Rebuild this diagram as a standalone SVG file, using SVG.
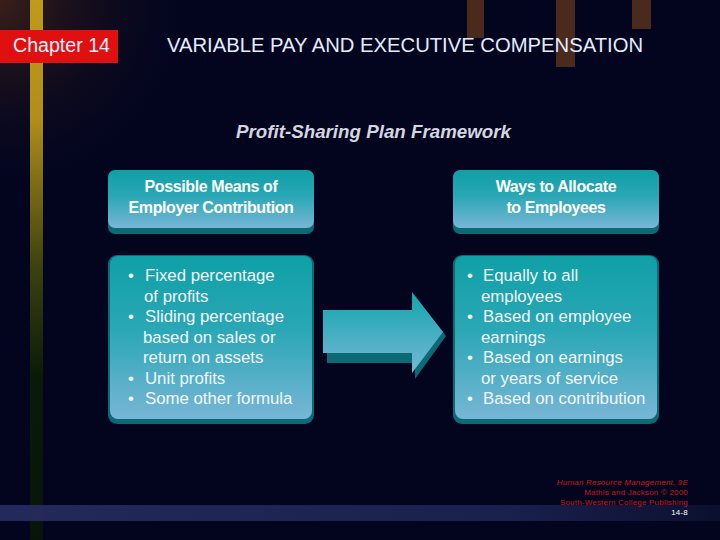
<svg xmlns="http://www.w3.org/2000/svg" width="720" height="540" viewBox="0 0 720 540">
<defs>
<radialGradient id="glow" cx="0" cy="0" r="200" gradientUnits="userSpaceOnUse">
<stop offset="0" stop-color="#3a2018"/>
<stop offset="1" stop-color="#03051f" stop-opacity="0"/>
</radialGradient>
<linearGradient id="ybar" x1="0" y1="0" x2="0" y2="540" gradientUnits="userSpaceOnUse">
<stop offset="0" stop-color="#c09a1c"/>
<stop offset="0.22" stop-color="#b08e1a"/>
<stop offset="0.5" stop-color="#3a4010"/>
<stop offset="0.7" stop-color="#0a1a08"/>
<stop offset="1" stop-color="#08140a"/>
</linearGradient>
<linearGradient id="band" x1="0" y1="0" x2="1" y2="0">
<stop offset="0" stop-color="#262b5e"/>
<stop offset="0.7" stop-color="#1c2150"/>
<stop offset="1" stop-color="#0c1030"/>
</linearGradient>
<linearGradient id="box" x1="0" y1="0" x2="0" y2="1">
<stop offset="0" stop-color="#0fa0a6"/>
<stop offset="0.45" stop-color="#2aa7b5"/>
<stop offset="1" stop-color="#78b6d6"/>
</linearGradient>
<linearGradient id="arrowG" x1="0" y1="0" x2="0" y2="1">
<stop offset="0" stop-color="#12a4ab"/>
<stop offset="1" stop-color="#76b8d6"/>
</linearGradient>
<style>
.shadow{fill:#0b6a74}
.box{fill:url(#box)}
.hd{font-family:"Liberation Sans",Arial,sans-serif;font-weight:bold;font-size:16px;fill:#ffffff;text-anchor:middle;letter-spacing:-0.4px}
.bt{font-family:"Liberation Sans",Arial,sans-serif;font-size:16.8px;fill:#f2f6ff}
.ft{font-family:"Liberation Sans",Arial,sans-serif;font-size:8px;fill:#c8161c;text-anchor:end;letter-spacing:0.2px}
</style>
</defs>
<rect x="0" y="0" width="720" height="540" fill="#03051f"/>
<rect x="0" y="0" width="300" height="300" fill="url(#glow)"/>
<rect x="467" y="0" width="17" height="38" fill="#4a2a1c"/>
<rect x="556" y="0" width="19" height="67" fill="#4a2a1c"/>
<rect x="632" y="0" width="19" height="29" fill="#4a2a1c"/>
<rect x="30" y="0" width="13" height="540" fill="url(#ybar)"/>
<rect x="0" y="505" width="720" height="16" fill="url(#band)" opacity="0.95"/>
<rect x="0" y="30" width="118" height="33" fill="#e01010"/>
<text x="13" y="52" font-family="'Liberation Sans',Arial,sans-serif" font-size="20" fill="#f0f0ff" textLength="97" lengthAdjust="spacingAndGlyphs">Chapter 14</text>
<text x="167" y="52" font-family="'Liberation Sans',Arial,sans-serif" font-size="20" fill="#e4ecff" textLength="476" lengthAdjust="spacingAndGlyphs">VARIABLE PAY AND EXECUTIVE COMPENSATION</text>
<text x="236" y="138" font-family="'Liberation Sans',Arial,sans-serif" font-size="18.5" font-weight="bold" font-style="italic" fill="#d4d6e0" textLength="275" lengthAdjust="spacingAndGlyphs">Profit-Sharing Plan Framework</text>

<g id="left-header">
<rect x="108" y="171" width="206" height="63" rx="7" class="shadow"/>
<rect x="108" y="170" width="206" height="58" rx="7" class="box"/>
<text x="211" y="192" class="hd">Possible Means of</text>
<text x="211" y="213" class="hd">Employer Contribution</text>
</g>
<g id="right-header">
<rect x="453" y="171" width="206" height="63" rx="7" class="shadow"/>
<rect x="453" y="170" width="206" height="58" rx="7" class="box"/>
<text x="556" y="192" class="hd">Ways to Allocate</text>
<text x="556" y="213" class="hd">to Employees</text>
</g>
<g id="left-body">
<rect x="108" y="255" width="206" height="169" rx="9" class="shadow"/>
<rect x="110" y="256" width="202" height="163" rx="8" class="box"/>
<text class="bt"><tspan x="128" y="281">•</tspan><tspan x="145" y="281">Fixed percentage</tspan>
<tspan x="144" y="302">of profits</tspan>
<tspan x="128" y="322">•</tspan><tspan x="145" y="322">Sliding percentage</tspan>
<tspan x="143" y="343">based on sales or</tspan>
<tspan x="143" y="363">return on assets</tspan>
<tspan x="128" y="384">•</tspan><tspan x="145" y="384">Unit profits</tspan>
<tspan x="128" y="404">•</tspan><tspan x="145" y="404">Some other formula</tspan></text>
</g>
<g id="right-body">
<rect x="453" y="255" width="206" height="169" rx="9" class="shadow"/>
<rect x="455" y="256" width="202" height="163" rx="8" class="box"/>
<text class="bt"><tspan x="467" y="281">•</tspan><tspan x="483" y="281">Equally to all</tspan>
<tspan x="481" y="302">employees</tspan>
<tspan x="467" y="322">•</tspan><tspan x="483" y="322">Based on employee</tspan>
<tspan x="481" y="343">earnings</tspan>
<tspan x="467" y="363">•</tspan><tspan x="483" y="363">Based on earnings</tspan>
<tspan x="481" y="384">or years of service</tspan>
<tspan x="467" y="404">•</tspan><tspan x="483" y="404">Based on contribution</tspan></text>
</g>
<g id="connectors">
<path d="M327 315 H415 V296 L446 336 L415 379 V363 H327 Z" fill="#0b6a74"/>
<path d="M323 310 H412 V292 L443 332 L412 373 V353 H323 Z" fill="url(#arrowG)"/>
</g>
<text class="ft" x="688" y="485" font-style="italic">Human Resource Management, 9E</text>
<text class="ft" x="688" y="495">Mathis and Jackson © 2000</text>
<text class="ft" x="688" y="505">South-Western College Publishing</text>
<text class="ft" x="688" y="515" style="fill:#ffffff">14-8</text>
</svg>
